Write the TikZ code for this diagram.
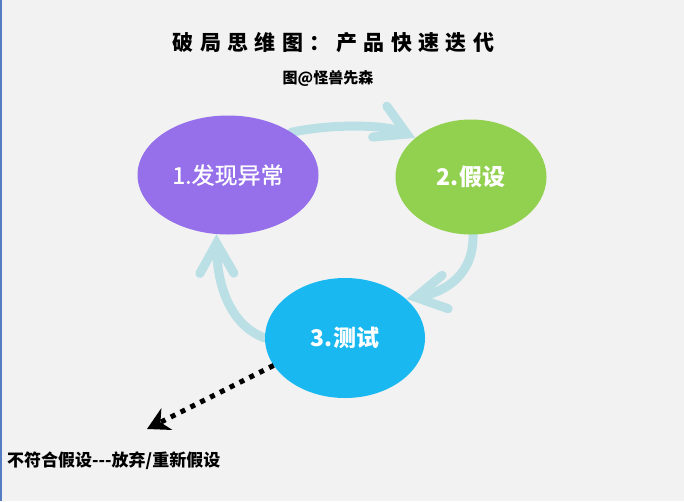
\documentclass[tikz,border=0pt]{standalone}
\usepackage{fontspec}
\setmainfont{Noto Sans CJK SC}
\usetikzlibrary{shapes.geometric,arrows.meta}
\definecolor{bg}{RGB}{242,242,242}
\definecolor{cpurple}{RGB}{150,112,234}
\definecolor{cgreen}{RGB}{146,208,80}
\definecolor{cblue}{RGB}{26,184,240}
\definecolor{carrow}{RGB}{186,224,230}
\definecolor{cedge}{RGB}{84,124,192}
\pgfdeclarelayer{back}
\pgfsetlayers{back,main}
\newcommand\ttlsp{\hspace{6.3pt}}
\begin{document}
\begin{tikzpicture}[x=1pt,y=-1pt,
  stage/.style={ellipse, inner sep=0pt, text=white, font=\fontsize{23}{27}\selectfont},
  cyc/.style={draw=carrow, line width=9pt, line cap=round, line join=round,
    -{Straight Barb[length=30pt,width=34pt,line cap=round]}},
  dotarrow/.style={draw=black, line width=5pt, dash pattern=on 5pt off 6pt,
    -{Stealth[length=22pt,width=24pt,inset=7pt]}},
  txt/.style={inner sep=0pt, text=black}
]
\begin{pgfonlayer}{back}
\fill[bg] (0,0) rectangle (684,501);
\end{pgfonlayer}
\useasboundingbox (0,0) rectangle (684,501);
\draw[cedge, line width=1.5pt] (0.75,0) -- (0.75,501);

% title and subtitle
\node[txt, font=\bfseries\fontsize{21}{25}\selectfont] (title) at (333.5,42.5)
  {破\ttlsp 局\ttlsp 思\ttlsp 维\ttlsp 图\ttlsp ：\ttlsp 产\ttlsp 品\ttlsp 快\ttlsp 速\ttlsp 迭\ttlsp 代};
\node[txt, font=\bfseries\fontsize{15}{18}\selectfont] (sub) at (328,78.5) {图@怪兽先森};

% stages
\node[stage, fill=cpurple, minimum width=181pt, minimum height=119pt] (s1) at (228,175) {\addfontfeature{FakeBold=0.8}1.发现异常};
\node[stage, fill=cgreen, minimum width=151pt, minimum height=115pt] (s2) at (471,177) {\bfseries 2.假设};
\node[stage, fill=cblue, minimum width=160pt, minimum height=120pt] (s3) at (345,338) {\bfseries 3.测试};

% cycle arrows
\begin{pgfonlayer}{back}
\draw[cyc] (s1.34) .. controls (330,124) and (385,124) .. (s2.145);
\draw[cyc] (s2.-88) .. controls (474,275) and (445,292) .. ([xshift=3pt,yshift=-2pt]s3.35);
\draw[cyc] (s3.180) .. controls (230,325) and (217,285) .. (s1.-101);
\end{pgfonlayer}

% dotted arrow
\coordinate (dtip) at (147,429);
\draw[dotarrow] (s3.201) -- (dtip);

% note
\node[txt, anchor=west, font=\bfseries\fontsize{17}{20}\selectfont] (note) at (7,461)
  {不符合假设-{}-{}-放弃/重新假设};
\end{tikzpicture}
\end{document}
